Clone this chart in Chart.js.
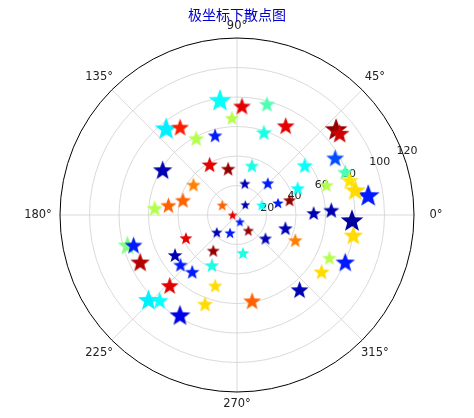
<!DOCTYPE html>
<html><head><meta charset="utf-8">
<script src="https://cdn.jsdelivr.net/npm/chart.js@4"></script>
<style>html,body{margin:0;padding:0;background:#fff}#w{width:474px;height:418px}</style>
</head><body><div id="w"><canvas id="c"></canvas></div>
<script>
const radius = [79,74,78,66,76,71,59,56,59,69,89,89,59,39,35,57,77,36,32,79,80,90,56,47,38,22,30,45,64,82,12,18,29,37,52,64,78,9,3,5,13,25,34,43,80,18,13,38,29,26,77,73,73,50,51,38,49,66,50,83,78,64,59,66,69,69,80,78];
const thetaDeg = [98.4,87.4,74.9,93,129.2,122.9,118,105.4,72,61.4,41,38.5,148.7,118.4,73.3,36.3,30.2,145.1,100.8,21.7,17.2,8.7,175.1,171.8,164.5,76,45.9,23.9,18.6,12,146.3,21.8,16.3,15.8,1.5,3,357.5,51.3,180,293,306.3,320.6,344.8,336.7,350.2,220.4,248.7,204.3,236.3,279,195.3,196.2,205.9,212.8,221.3,243.4,231.7,226.3,252.8,223.7,240.3,250.2,280,310,326.2,335.2,336.5,227.8];
const colorVal = [0.38,0.9,0.45,0.55,0.36,0.85,0.55,0.15,0.4,0.9,0.98,0.92,0.05,0.9,0.4,0.38,0.2,0.75,0.98,0.45,0.65,0.15,0.55,0.78,0.78,0.05,0.15,0.38,0.55,0.66,0.78,0.38,0.15,0.98,0.05,0.05,0.03,0.05,0.9,0.15,0.98,0.05,0.05,0.75,0.66,0.05,0.15,0.9,0.98,0.4,0.5,0.15,0.95,0.05,0.15,0.4,0.15,0.9,0.66,0.36,0.1,0.66,0.78,0.05,0.66,0.55,0.15,0.38];
const sizeVal = [14,11,10,9,14,11,10,9,10,11,14,12,12,10,9,10,11,9,9,10,11,14,10,10,10,7,8,9,9,13,7,7,7,8,9,10,14,6,6,6,7,8,9,9,12,7,7,8,8,8,12,11,12,9,9,9,9,11,9,13,13,10,11,11,10,9,12,11];
const radialTicks = [20,40,60,80,100,120];
const angleTicks = [0,45,90,135,180,225,270,315];
const title = "极坐标下散点图";

function jet(v){
  const r=Math.min(1,Math.max(0,Math.min(4*v-1.5,-4*v+4.5)));
  const g=Math.min(1,Math.max(0,Math.min(4*v-0.5,-4*v+3.5)));
  const b=Math.min(1,Math.max(0,Math.min(4*v+0.5,-4*v+2.5)));
  return `rgb(${Math.round(r*255)},${Math.round(g*255)},${Math.round(b*255)})`;
}
function starCanvas(col,size){
  const s=size*0.85, n=Math.ceil(s*2+2);
  const cv=document.createElement('canvas'); cv.width=n; cv.height=n;
  const x=cv.getContext('2d'); x.beginPath();
  for(let i=0;i<10;i++){const rr=i%2?s*0.42:s;const a=-Math.PI/2+i*Math.PI/5;
    const px=n/2+rr*Math.cos(a), py=n/2+rr*Math.sin(a)+s*0.1; i?x.lineTo(px,py):x.moveTo(px,py);}
  x.closePath(); x.fillStyle=col; x.fill();
  return cv;
}
const pts = radius.map((r,i)=>({x:r*Math.cos(thetaDeg[i]*Math.PI/180), y:r*Math.sin(thetaDeg[i]*Math.PI/180)}));
const styles = colorVal.map((v,i)=>starCanvas(jet(v),sizeVal[i]));

const polarGrid = {
  id:'polarGrid',
  beforeDatasetsDraw(ch){
    const c=ch.ctx, sx=ch.scales.x, sy=ch.scales.y;
    const cx=sx.getPixelForValue(0), cy=sy.getPixelForValue(0);
    const R=sx.getPixelForValue(120)-cx;
    c.save();
    c.strokeStyle='#d0d0d0'; c.lineWidth=0.8;
    angleTicks.forEach(a=>{c.beginPath();c.moveTo(cx,cy);
      c.lineTo(cx+R*Math.cos(a*Math.PI/180),cy-R*Math.sin(a*Math.PI/180));c.stroke();});
    radialTicks.forEach(t=>{const r=sx.getPixelForValue(t)-cx;c.beginPath();c.arc(cx,cy,r,0,2*Math.PI);
      if(t===120){c.strokeStyle='#000';c.lineWidth=1;}c.stroke();});
    c.fillStyle='#222'; c.font='11px "DejaVu Sans"'; c.textAlign='left'; c.textBaseline='middle';
    radialTicks.forEach(t=>{const r=sx.getPixelForValue(t)-cx, a=22.5*Math.PI/180;
      c.fillText(String(t),cx+r*Math.cos(a)-4,cy-r*Math.sin(a)+4);});
    c.textAlign='center'; c.font='11.5px "DejaVu Sans"';
    angleTicks.forEach(a=>{const rr=R+(a%90===0?(a%180===0?22:12):18);
      c.fillText(a+'°',cx+rr*Math.cos(a*Math.PI/180),cy-rr*Math.sin(a*Math.PI/180));});
    c.fillStyle='#0000cc'; c.font='14px "Noto Sans CJK SC"';
    c.fillText(title,cx,15);
    c.restore();
  }
};
new Chart(document.getElementById('c'),{
  type:'scatter',
  data:{datasets:[{data:pts,pointStyle:styles,pointRadius:sizeVal,pointHoverRadius:sizeVal}]},
  options:{responsive:true,maintainAspectRatio:false,animation:false,
    layout:{padding:{left:60,right:60,top:38,bottom:26}},
    plugins:{legend:{display:false},tooltip:{enabled:false}},
    scales:{x:{min:-120,max:120,display:false},y:{min:-120,max:120,display:false}}},
  plugins:[polarGrid]
});
</script></body></html>
